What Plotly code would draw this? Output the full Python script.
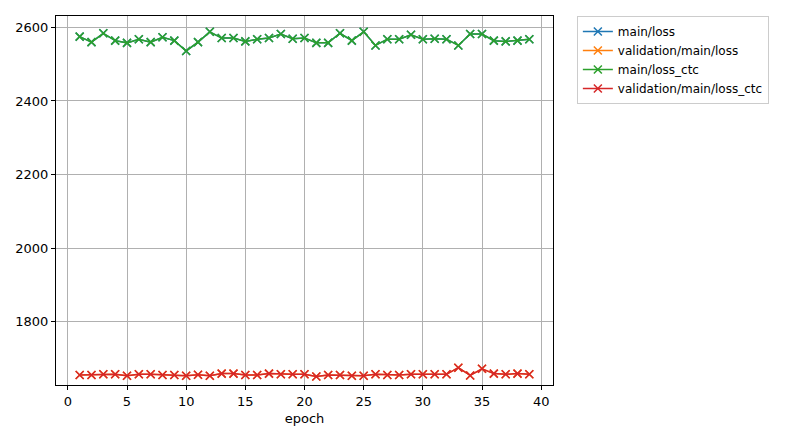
import plotly.graph_objects as go

epochs = list(range(1, 40))
main_loss_ctc = [2575, 2560, 2584, 2564, 2558, 2568, 2560, 2573, 2564, 2536,
                 2560, 2588, 2571, 2571, 2562, 2568, 2571, 2582, 2569, 2571,
                 2558, 2558, 2584, 2564, 2588, 2551, 2568, 2568, 2580, 2568,
                 2569, 2568, 2551, 2582, 2582, 2564, 2562, 2564, 2568]
val_loss_ctc = [1655, 1655, 1657, 1657, 1653, 1657, 1657, 1655, 1655, 1653,
                1656, 1653, 1659, 1659, 1655, 1655, 1659, 1657, 1657, 1657,
                1651, 1655, 1655, 1653, 1653, 1657, 1655, 1655, 1657, 1657,
                1657, 1657, 1675, 1654, 1672, 1659, 1657, 1659, 1657]
main_loss = main_loss_ctc
val_loss = val_loss_ctc

series = [("main/loss", main_loss, "#1f77b4"),
          ("validation/main/loss", val_loss, "#ff7f0e"),
          ("main/loss_ctc", main_loss_ctc, "#2ca02c"),
          ("validation/main/loss_ctc", val_loss_ctc, "#d62728")]

fig = go.Figure()
for name, ys, c in series:
    fig.add_trace(go.Scatter(x=epochs, y=ys, name=name, mode="lines+markers",
                             line=dict(color=c, width=1.5),
                             marker=dict(symbol="x-thin", size=8, line=dict(color=c, width=1.5))))

ax = dict(showgrid=True, gridcolor="#b0b0b0", gridwidth=1, showline=True, mirror=True,
          linecolor="black", linewidth=1, ticks="outside", ticklen=4, tickcolor="black",
          zeroline=False, tickfont=dict(size=13, color="black"))
fig.update_layout(
    width=806, height=428, paper_bgcolor="white", plot_bgcolor="white",
    margin=dict(l=48, r=261, t=8, b=51),
    font=dict(family="DejaVu Sans", size=13, color="black"),
    xaxis=dict(**ax, range=[-1.0, 41.0], tickvals=[0, 5, 10, 15, 20, 25, 30, 35, 40],
               title=dict(text="epoch", standoff=6, font=dict(size=13))),
    yaxis=dict(**ax, range=[1628, 2631], tickvals=[1800, 2000, 2200, 2400, 2600]),
    legend=dict(x=1.048, y=1.0, xanchor="left", yanchor="top", bordercolor="#cccccc",
                borderwidth=1, font=dict(size=12)),
    shapes=[dict(type="rect", xref="paper", yref="paper", x0=1.505, x1=1.56, y0=-0.2, y1=1.05,
                 fillcolor="#e3eaf3", line=dict(width=0), layer="above")],
)
fig.write_html("out.html")
